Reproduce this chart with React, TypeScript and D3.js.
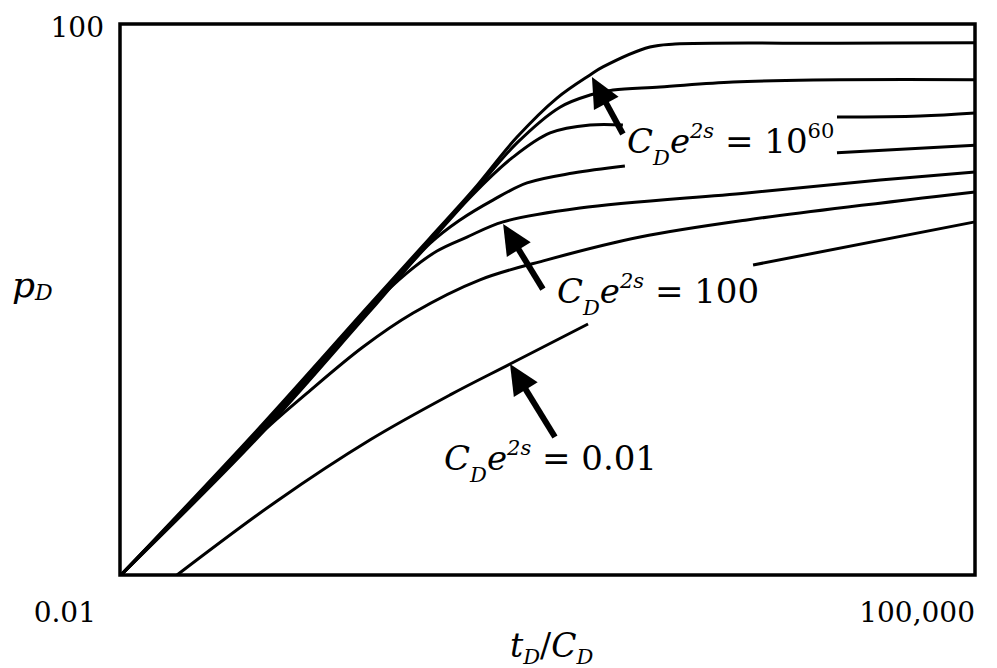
import * as d3 from "d3";

type Pt = [number, number] | null;

// p_D against t_D/C_D. null = break under a label.
const curveA: Pt[] = [
  [0.0104, 0.0102], [0.132, 0.112], [1.11, 0.92], [3.45, 2.8], [7.76, 6.2],
  [17.8, 15.1], [37.8, 29.0], [70.5, 42.7], [89.9, 48.8], [218, 68.1],
  [350, 71.5], [7500, 72.5], [100000, 73.0],
];
const curveB: Pt[] = [
  [0.0104, 0.0102], [0.132, 0.107], [1.11, 0.883], [3.45, 2.7], [7.76, 5.93],
  [17.8, 13.7], [40.0, 24.9], [70.5, 30.5], [109, 33.2], [264, 34.9],
  [1045, 37.9], [4720, 39.2], [100000, 39.4],
];
const curveC: Pt[] = [
  [0.0104, 0.0102], [0.132, 0.102], [1.11, 0.85], [3.45, 2.62], [7.76, 5.8],
  [16.5, 10.8], [33.2, 16.2], [70.5, 18.5], [131, 18.5],
  null,
  [7413, 21.1], [35500, 21.5], [100000, 22.6],
];
const curveD: Pt[] = [
  [0.0104, 0.0102], [0.132, 0.098], [1.11, 0.82], [3.45, 2.55], [6.08, 3.78],
  [11.3, 5.27], [21.5, 7.02], [51.2, 8.28], [136, 9.31],
  null,
  [7413, 11.6], [100000, 13.2],
];
const curveE: Pt[] = [
  [0.0104, 0.0102], [0.132, 0.105], [1.11, 0.87], [2.24, 1.56], [3.94, 2.25],
  [6.93, 2.84], [13.7, 3.66], [58.3, 4.61], [1358, 5.93], [16700, 7.36],
  [100000, 8.43],
];
const curveF: Pt[] = [
  [0.0104, 0.0102], [0.132, 0.1], [0.34, 0.209], [0.975, 0.452], [2.51, 0.798],
  [8.85, 1.39], [31.3, 1.94], [181, 2.84], [1358, 3.78], [100000, 6.03],
];
const curveG: Pt[] = [
  [0.0293, 0.01], [0.193, 0.0345], [1.11, 0.0955], [5.04, 0.203], [15.6, 0.34],
  [67.9, 0.664],
  null,
  [1524, 1.78], [100000, 3.66],
];
const allCurves = [curveA, curveB, curveC, curveD, curveE, curveF, curveG];

// annotations: value of C_D e^{2s}, arrow tip / tail and text anchor (data units)
const labelBase = ["10", "100", "0.01"];
const labelSup = ["60", "", ""];
const arrowTips: [number, number][] = [[73.1, 41.2], [13.7, 3.53], [15.6, 0.34]];
const arrowTails: [number, number][] = [[131, 15.9], [29.0, 1.19], [36.4, 0.1005]];
const labelAt: [number, number][] = [[141.6, 11.6], [37.8, 0.943], [4.5, 0.0578]];

const xTicks = [0.01, 100000];
const xTickText = ["0.01", "100,000"];
const yTicks = [100];
const yTickText = ["100"];

const W = 997;
const H = 668;
const FONT = "DejaVu Serif, Liberation Serif, Times New Roman, Times, serif";

export default function App() {
  const x = d3.scaleLog().domain([0.01, 100000]).range([120, 975]);
  const y = d3.scaleLog().domain([0.01, 100]).range([575, 24]);

  const line = d3
    .line<Pt>()
    .defined((d) => d !== null)
    .x((d) => x((d as [number, number])[0]))
    .y((d) => y((d as [number, number])[1]))
    .curve(d3.curveCatmullRom.alpha(0.5));

  const arrow = (i: number) => {
    const tx = x(arrowTips[i][0]);
    const ty = y(arrowTips[i][1]);
    const sx = x(arrowTails[i][0]);
    const sy = y(arrowTails[i][1]);
    const len = Math.hypot(tx - sx, ty - sy);
    const ux = (tx - sx) / len;
    const uy = (ty - sy) / len;
    const hl = 30;
    const hw = 14;
    const bx = tx - ux * hl;
    const by = ty - uy * hl;
    const head = [
      [tx, ty],
      [bx - uy * hw, by + ux * hw],
      [bx + uy * hw, by - ux * hw],
    ];
    return (
      <g key={"a" + i}>
        <line
          x1={sx}
          y1={sy}
          x2={bx + ux * 4}
          y2={by + uy * 4}
          stroke="#000"
          strokeWidth={6}
        />
        <polygon points={head.map((p) => p.join(",")).join(" ")} fill="#000" />
      </g>
    );
  };

  return (
    <svg
      width={W}
      height={H}
      style={{ position: "absolute", left: 0, top: 0, background: "#fff" }}
      fontFamily={FONT}
    >
      <rect x={0} y={0} width={W} height={H} fill="#fff" />

      {allCurves.map((c, i) => (
        <path
          key={i}
          d={line(c) || ""}
          fill="none"
          stroke="#000"
          strokeWidth={3}
          strokeLinejoin="round"
        />
      ))}

      <rect
        x={x(0.01)}
        y={y(100)}
        width={x(100000) - x(0.01)}
        height={y(0.01) - y(100)}
        fill="none"
        stroke="#000"
        strokeWidth={3.5}
      />

      {labelBase.map((_, i) => arrow(i))}

      {labelBase.map((v, i) => (
        <text
          key={"l" + i}
          x={x(labelAt[i][0])}
          y={y(labelAt[i][1])}
          fontSize={34}
          style={{ whiteSpace: "pre" }}
        >
          <tspan fontStyle="italic">C</tspan>
          <tspan fontStyle="italic" fontSize={21} dy={12}>D</tspan>
          <tspan fontStyle="italic" dy={-12}>e</tspan>
          <tspan fontStyle="italic" fontSize={21} dy={-15}>2s</tspan>
          <tspan dy={15}>{" = " + v}</tspan>
          {labelSup[i] && (
            <tspan fontSize={21} dy={-15}>{labelSup[i]}</tspan>
          )}
        </text>
      ))}

      {xTicks.map((t, i) => (
        <text
          key={"xt" + i}
          x={i === 0 ? x(t) - 24 : x(t)}
          y={y(0.01) + 47}
          fontSize={28}
          textAnchor="end"
        >
          {xTickText[i]}
        </text>
      ))}
      {yTicks.map((t, i) => (
        <text
          key={"yt" + i}
          x={x(0.01) - 16}
          y={y(t) + 13}
          fontSize={28}
          textAnchor="end"
        >
          {yTickText[i]}
        </text>
      ))}

      <text x={510} y={657} fontSize={33}>
        <tspan fontStyle="italic">t</tspan>
        <tspan fontStyle="italic" fontSize={21} dy={7}>D</tspan>
        <tspan dy={-7}>/</tspan>
        <tspan fontStyle="italic">C</tspan>
        <tspan fontStyle="italic" fontSize={21} dy={7}>D</tspan>
      </text>
      <text x={12} y={297} fontSize={36}>
        <tspan fontStyle="italic">p</tspan>
        <tspan fontStyle="italic" fontSize={22} dy={3}>D</tspan>
      </text>
    </svg>
  );
}
